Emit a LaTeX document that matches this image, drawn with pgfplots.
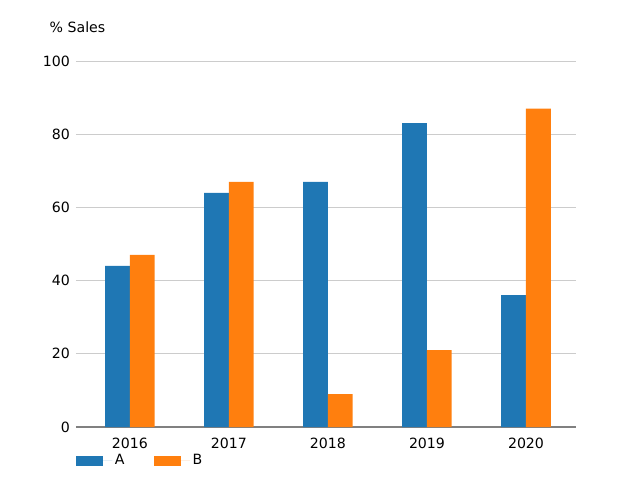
\documentclass[border=0pt]{standalone}
\usepackage{pgfplots}
\pgfplotsset{compat=1.18}
\usepackage{fontspec}
\setmainfont{DejaVu Sans}
\definecolor{cA}{HTML}{1F77B4}
\definecolor{cB}{HTML}{FF7F0E}
\begin{document}
\begin{tikzpicture}[x=1pt,y=1pt]
\path[use as bounding box] (0,0) rectangle (480,360);
\begin{axis}[
  at={(57pt,39.75pt)}, anchor=south west,
  scale only axis,
  width=375pt, height=274.5pt,
  xmin=-0.545, xmax=4.505,
  ymin=0, ymax=100,
  xtick={0,1,2,3,4},
  xticklabels={2016,2017,2018,2019,2020},
  ytick={0,20,40,60,80,100},
  ymajorgrids, grid style={color=black!20, line width=0.6pt},
  major tick length=0pt,
  axis x line*=bottom, axis y line*=left,
  x axis line style={draw=gray, line width=1.4pt, -},
  y axis line style={draw=none},
  tick label style={font=\fontsize{10.6}{12}\selectfont},
  /pgf/number format/assume math mode=true,
  xticklabel style={yshift=-5pt},
  yticklabel style={xshift=-1pt},
  legend style={at={(rel axis cs:-0.008,-0.06)}, anchor=north west, draw=none, fill=none,
    legend columns=2, font=\fontsize{10.6}{12}\selectfont,
    /tikz/every even column/.append style={column sep=20pt}},
  legend image code/.code={\fill[#1] (0pt,-3.75pt) rectangle (20pt,3.75pt);
    \path (20pt,0pt) -- (27pt,0pt);},
  clip=false,
]
\addplot[ybar, bar width=0.25, bar shift=-0.125, fill=cA, draw=none] coordinates {
  (0,44) (1,64) (2,67) (3,83) (4,36)
};
\addlegendentry{A}
\addplot[ybar, bar width=0.25, bar shift=0.125, fill=cB, draw=none] coordinates {
  (0,47) (1,67) (2,9) (3,21) (4,87)
};
\addlegendentry{B}
\node[anchor=west, font=\fontsize{10.6}{12}\selectfont] at (rel axis cs:-0.062,1.093) {\% Sales};
\end{axis}
\end{tikzpicture}
\end{document}
